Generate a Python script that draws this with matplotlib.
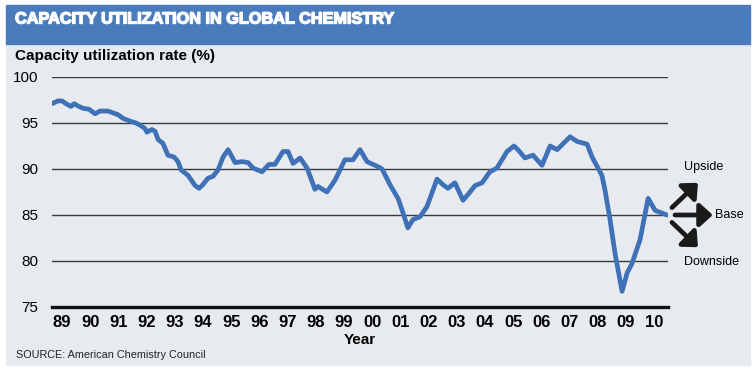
import numpy as np
import matplotlib
matplotlib.use("Agg")
import matplotlib.pyplot as plt
from matplotlib.patches import Rectangle
import matplotlib.patheffects as pe

# data (decimal year, capacity utilization %)
years = [1989.00, 1989.21, 1989.36, 1989.50, 1989.68, 1989.79, 1989.96, 1990.11,
         1990.32, 1990.54, 1990.71, 1991.00, 1991.18, 1991.36, 1991.54, 1991.79,
         1992.00, 1992.18, 1992.32, 1992.39, 1992.57, 1992.68, 1992.79, 1992.96,
         1993.14, 1993.36, 1993.50, 1993.61, 1993.86, 1994.11, 1994.25, 1994.39,
         1994.57, 1994.75, 1994.93, 1995.11, 1995.29, 1995.54, 1995.79, 1996.00,
         1996.18, 1996.50, 1996.75, 1996.96, 1997.25, 1997.43, 1997.61, 1997.86,
         1998.11, 1998.39, 1998.50, 1998.82, 1999.11, 1999.46, 1999.75, 2000.00,
         2000.25, 2000.61, 2000.79, 2001.07, 2001.36, 2001.54, 2001.71, 2001.89,
         2002.14, 2002.39, 2002.57, 2002.75, 2002.96, 2003.14, 2003.39, 2003.68,
         2003.93, 2004.11, 2004.36, 2004.64, 2004.89, 2005.25, 2005.50, 2005.64,
         2005.89, 2006.18, 2006.50, 2006.79, 2007.04, 2007.50, 2007.75, 2008.11,
         2008.29, 2008.64, 2008.75, 2008.93, 2009.11, 2009.36, 2009.54, 2009.71,
         2010.00, 2010.29, 2010.54, 2010.79, 2010.96]
rate = [97.1, 97.4, 97.4, 97.1, 96.8, 97.1, 96.8, 96.6,
        96.5, 96.0, 96.3, 96.3, 96.1, 95.9, 95.5, 95.2,
        95.0, 94.7, 94.4, 94.0, 94.3, 94.1, 93.2, 92.8,
        91.5, 91.3, 90.8, 89.9, 89.3, 88.2, 87.9, 88.3,
        89.0, 89.2, 89.9, 91.3, 92.1, 90.7, 90.8, 90.7,
        90.1, 89.7, 90.5, 90.5, 91.9, 91.9, 90.6, 91.2,
        90.1, 87.8, 88.1, 87.5, 88.8, 91.0, 91.0, 92.1,
        90.8, 90.3, 90.0, 88.3, 86.8, 85.2, 83.6, 84.5,
        84.8, 85.9, 87.4, 88.9, 88.3, 87.9, 88.5, 86.6,
        87.5, 88.2, 88.5, 89.7, 90.1, 91.9, 92.5, 92.1,
        91.2, 91.5, 90.4, 92.5, 92.1, 93.5, 93.0, 92.7,
        91.3, 89.3, 87.7, 84.5, 80.8, 76.7, 78.7, 79.7,
        82.3, 86.8, 85.5, 85.2, 85.0]

year_labels = ["89", "90", "91", "92", "93", "94", "95", "96", "97", "98", "99",
               "00", "01", "02", "03", "04", "05", "06", "07", "08", "09", "10"]
y_ticks = [75, 80, 85, 90, 95, 100]

W, H = 755, 371
fig = plt.figure(figsize=(W / 100, H / 100), dpi=100)
fig.patch.set_facecolor("white")

# panel background and header band
fig.patches.append(Rectangle((6 / W, 1 - 365 / H), 744 / W, 322 / H,
                             transform=fig.transFigure, color="#e7ebef", zorder=-10))
fig.patches.append(Rectangle((6 / W, 1 - 44 / H), 744 / W, 39 / H,
                             transform=fig.transFigure, color="#4a7bbd", zorder=-10))

fig.text(15 / W, 1 - 19 / H, "CAPACITY UTILIZATION IN GLOBAL CHEMISTRY",
         color="white", fontsize=11.7, fontweight="bold", va="center",
         family="Liberation Sans",
         path_effects=[pe.withStroke(linewidth=1.0, foreground="white")])
fig.text(15 / W, 1 - 56 / H, "Capacity utilization rate (%)",
         fontsize=11, fontweight="bold", va="center", family="Liberation Sans")
fig.text(16 / W, 1 - 355 / H, "SOURCE: American Chemistry Council",
         fontsize=7.8, va="center", family="Liberation Sans", color="#222222")

ax = fig.add_axes([52 / W, 1 - 307 / H, 616 / W, 230 / H])
ax.set_zorder(1)
ax.set_facecolor("none")
ax.set_xlim(1989, 2011)
ax.set_ylim(75, 100)

for v in y_ticks[1:]:
    ax.axhline(v, color="#3a3a3a", lw=1.0, zorder=1)
ax.axhline(75, color="#111111", lw=2.4, zorder=1, clip_on=False)

ax.plot(years, rate, color="#3f71b7", lw=3.4, solid_joinstyle="round",
        solid_capstyle="round", zorder=3)

for s in ax.spines.values():
    s.set_visible(False)
ax.tick_params(length=0)
ax.set_yticks(y_ticks)
ax.set_yticklabels([str(v) for v in y_ticks], fontsize=11, family="Liberation Sans")
ax.tick_params(axis="y", pad=10)
ax.set_xticks(np.linspace(1989.36, 2010.5, len(year_labels)))
ax.set_xticklabels(year_labels, fontsize=12, fontweight="bold", family="Liberation Sans")
ax.tick_params(axis="x", pad=6)
ax.set_xlabel("Year", fontsize=11, fontweight="bold", family="Liberation Sans", labelpad=2)

# scenario arrows
arrow = dict(arrowstyle="-|>,head_length=0.55,head_width=0.5", lw=3.4,
             color="#1a1a1a", shrinkA=0, shrinkB=0, mutation_scale=14)
ax.annotate("", xy=(2012.07, 88.5), xytext=(2011.14, 85.8), arrowprops=arrow,
            annotation_clip=False)
ax.annotate("", xy=(2012.6, 85.0), xytext=(2011.25, 85.0), arrowprops=arrow,
            annotation_clip=False)
ax.annotate("", xy=(2012.07, 81.5), xytext=(2011.14, 84.2), arrowprops=arrow,
            annotation_clip=False)
ax.text(2011.57, 90.2, "Upside", fontsize=9, va="center", family="Liberation Sans")
ax.text(2012.68, 85.0, "Base", fontsize=9, va="center", family="Liberation Sans")
ax.text(2011.57, 79.9, "Downside", fontsize=9, va="center", family="Liberation Sans")

fig.savefig("out.png", dpi=100, facecolor="white")
